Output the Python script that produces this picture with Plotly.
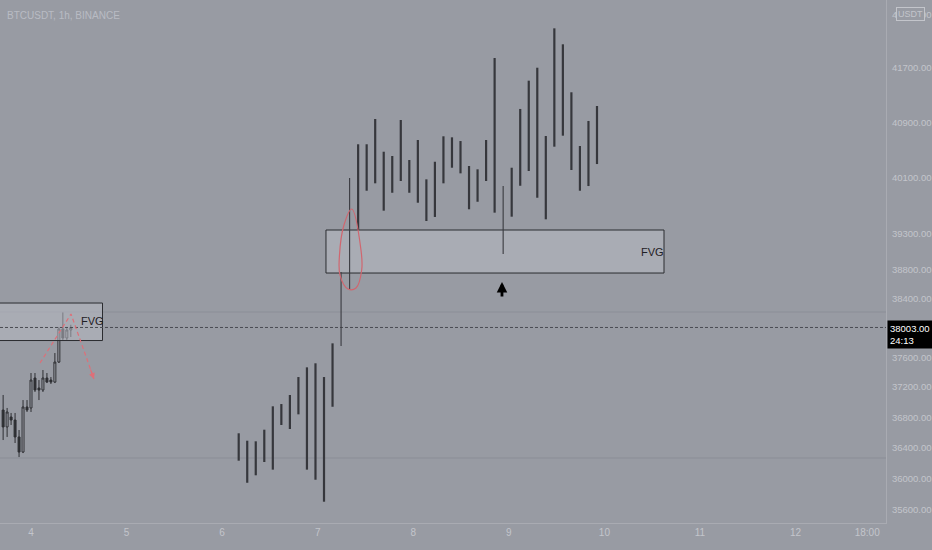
import math
import plotly.graph_objects as go

# ---------------- data ----------------
# real hourly candles (hours relative to day 4 00:00)
candle_hours = [-7, -6, -5, -4, -3, -2, -1, 0, 1, 2, 3, 4, 5, 6, 7, 8, 9, 10]
c_open = [36897, 36674, 36805, 36765, 36543, 36346, 36937, 36924, 37322, 37189, 37162, 37322, 37295, 37268, 37536, 37983, 37860, 37969]
c_high = [37096, 36924, 36858, 36858, 36634, 37029, 37029, 37389, 37389, 37295, 37429, 37389, 37335, 37657, 38010, 38214, 38010, 38040]
c_low = [36503, 36543, 36700, 36464, 36281, 36333, 36871, 36871, 37136, 37029, 37136, 37255, 37242, 37255, 37523, 37833, 37833, 37874]
c_close = [36674, 36871, 36765, 36543, 36346, 36937, 36897, 37295, 37162, 37162, 37322, 37268, 37268, 37536, 37983, 37860, 37969, 38003]

# projected "bars pattern" (high / low of each bar)
bar_start = 52.16   # hours after day 4 00:00
bar_step = 2.1424   # hours between bars
bar_high = [36591, 36494, 36486, 36638, 36946, 36976, 37096, 37335, 37465, 37519, 37335, 37788,
            38765, 40091, 40578, 40578, 40947, 40470, 40408, 40932, 40350, 40640, 40072, 40325,
            40694, 40679, 40625, 40264, 40216, 40640, 41850, 39976, 40239, 41094, 41512, 41705,
            40698, 42297, 42056, 41340, 40553, 40918, 41138]
bar_low = [36234, 35949, 36045, 36217, 36118, 36700, 36647, 36840, 36118, 35988, 35706, 36940,
           37752, 38516, 39352, 39909, 40015, 39625, 39880, 40048, 39880, 39738, 39479, 39536,
           40015, 40239, 40158, 39645, 39752, 40048, 39597, 39016, 39540, 39980, 40192, 39809,
           39503, 40543, 40703, 40206, 39909, 39976, 40292]
thin_bars = [12, 13, 31]

# zones and levels
fvg_big = dict(x0=74.08, x1=158.97, y0=38751, y1=39352)
fvg_small = dict(x0=-20, x1=17.96, y0=37826, y1=38337)
last_price = 38003
levels = [38214, 36269]

# drawings
red_path_x = [2.26, 10.05, 15.82]
red_path_y = [37523, 38187, 37308]
loop_x = [80.54, 82.87, 83.05, 81.62, 79.61, 77.60, 77.47, 78.60, 80.54]
loop_y = [39649, 39072, 38793, 38544, 38530, 38723, 39002, 39423, 39649]
arrow_pt = (118.28, 38626)

x_ticks = [0, 24, 48, 72, 96, 120, 144, 168, 192, 210]
x_labels = ['4', '5', '6', '7', '8', '9', '10', '11', '12', '18:00']
y_ticks = [35600, 36000, 36400, 36800, 37200, 37600, 38400, 38800, 39300, 40100, 40900, 41700, 42500]
y_labels = [f"{v:.2f}" for v in y_ticks]

X_RANGE = [-7.785, 214.72]
Y_RANGE = [35435, 42728]

# ---------------- style ----------------
BG = '#989ba3'
BAR = '#36373c'
TXT = '#c3c5cb'
FONT = 'Liberation Sans, Arial, sans-serif'

fig = go.Figure()

# faint horizontal levels
for lv in levels:
    fig.add_trace(go.Scatter(x=X_RANGE, y=[lv, lv], mode='lines',
                             line=dict(color='#8b8e97', width=1), hoverinfo='skip', showlegend=False))

# FVG boxes
for b in (fvg_small, fvg_big):
    fig.add_trace(go.Scatter(x=[b['x0'], b['x1'], b['x1'], b['x0'], b['x0']],
                             y=[b['y0'], b['y0'], b['y1'], b['y1'], b['y0']],
                             mode='lines', fill='toself', fillcolor='rgba(184,186,194,0.55)',
                             line=dict(color='#2b2c30', width=1), hoverinfo='skip', showlegend=False))

# last price dashed line
fig.add_trace(go.Scatter(x=X_RANGE, y=[last_price, last_price], mode='lines',
                         line=dict(color='#4a4c52', width=1, dash='3px,2px'),
                         hoverinfo='skip', showlegend=False))

# bars pattern
thick_x, thick_y, thin_x, thin_y = [], [], [], []
for i, (h, l) in enumerate(zip(bar_high, bar_low)):
    t = bar_start + i * bar_step
    if i in thin_bars:
        thin_x += [t, t, None]; thin_y += [l, h, None]
    else:
        thick_x += [t, t, None]; thick_y += [l, h, None]
fig.add_trace(go.Scatter(x=thick_x, y=thick_y, mode='lines', line=dict(color=BAR, width=2.2),
                         hoverinfo='skip', showlegend=False))
fig.add_trace(go.Scatter(x=thin_x, y=thin_y, mode='lines', line=dict(color='#3a3b40', width=1.1),
                         hoverinfo='skip', showlegend=False))

# candles
fig.add_trace(go.Candlestick(x=candle_hours, open=c_open, high=c_high, low=c_low, close=c_close,
                             increasing=dict(line=dict(color='#2e2f33', width=1), fillcolor='#a3a6ae'),
                             decreasing=dict(line=dict(color='#2e2f33', width=1), fillcolor='#2e2f33'),
                             whiskerwidth=0, showlegend=False))

# red drawings
fig.add_trace(go.Scatter(x=red_path_x, y=red_path_y, mode='lines',
                         line=dict(color='#de6f78', width=1.2, dash='4px,3px'),
                         hoverinfo='skip', showlegend=False))
fig.add_trace(go.Scatter(x=loop_x, y=loop_y, mode='lines', line=dict(color='#d0666f', width=1.2, shape='spline'),
                         hoverinfo='skip', showlegend=False))

ann = []
ann.append(dict(x=red_path_x[-1], y=math.log10(red_path_y[-1]), xref='x', yref='y', text='',
                showarrow=True, ax=-4, ay=-11, arrowhead=2, arrowsize=1, arrowwidth=1.2,
                arrowcolor='#de6f78'))
ann.append(dict(x=arrow_pt[0], y=math.log10(arrow_pt[1]), xref='x', yref='y', text='',
                showarrow=True, ax=0, ay=16, arrowhead=2, arrowsize=0.75, arrowwidth=2.8,
                arrowcolor='#000000'))
ann.append(dict(x=156.2, y=math.log10(39044), xref='x', yref='y', text='FVG', showarrow=False,
                font=dict(family=FONT, size=11, color='#1f2024')))
ann.append(dict(x=15.32, y=math.log10(38091), xref='x', yref='y', text='FVG', showarrow=False,
                font=dict(family=FONT, size=11, color='#1f2024')))
ann.append(dict(x=0.006, y=0.97, xref='paper', yref='paper', text='BTCUSDT, 1h, BINANCE',
                showarrow=False, xanchor='left', yanchor='middle',
                font=dict(family=FONT, size=10, color='#b8bbc3')))
ann.append(dict(x=1.0, y=math.log10(37914), xref='paper', yref='y',
                text=f"{last_price:.2f}<br>24:13", showarrow=False, xanchor='left', yanchor='middle',
                align='left', bgcolor='#000000', font=dict(family=FONT, size=9.5, color='#ffffff'),
                borderpad=2, xshift=1, width=41))
ann.append(dict(x=1.0, y=0.973, xref='paper', yref='paper', text='USDT', showarrow=False,
                xanchor='left', yanchor='middle', xshift=10, bgcolor=BG, bordercolor='#c3c5cb',
                borderwidth=1, borderpad=1, font=dict(family=FONT, size=9, color='#c3c5cb')))

fig.update_layout(
    width=932, height=550,
    margin=dict(l=0, r=46, t=0, b=27),
    paper_bgcolor=BG, plot_bgcolor=BG,
    showlegend=False,
    annotations=ann,
    xaxis=dict(range=X_RANGE, tickvals=x_ticks, ticktext=x_labels, showgrid=False, zeroline=False,
               rangeslider=dict(visible=False), showline=True, linecolor='#a9abb2', linewidth=1,
               ticks='', tickfont=dict(family=FONT, size=10, color=TXT), mirror=False),
    yaxis=dict(type='log', range=[math.log10(Y_RANGE[0]), math.log10(Y_RANGE[1])], side='right',
               tickvals=y_ticks, ticktext=y_labels, showgrid=False, zeroline=False,
               showline=True, linecolor='#a9abb2', linewidth=1, ticks='',
               tickfont=dict(family=FONT, size=9.5, color=TXT), ticklabelstandoff=3),
)

fig.write_html("out.html", config={'displayModeBar': False},
               post_script="document.body.style.margin='0';document.body.style.background='#989ba3';")
